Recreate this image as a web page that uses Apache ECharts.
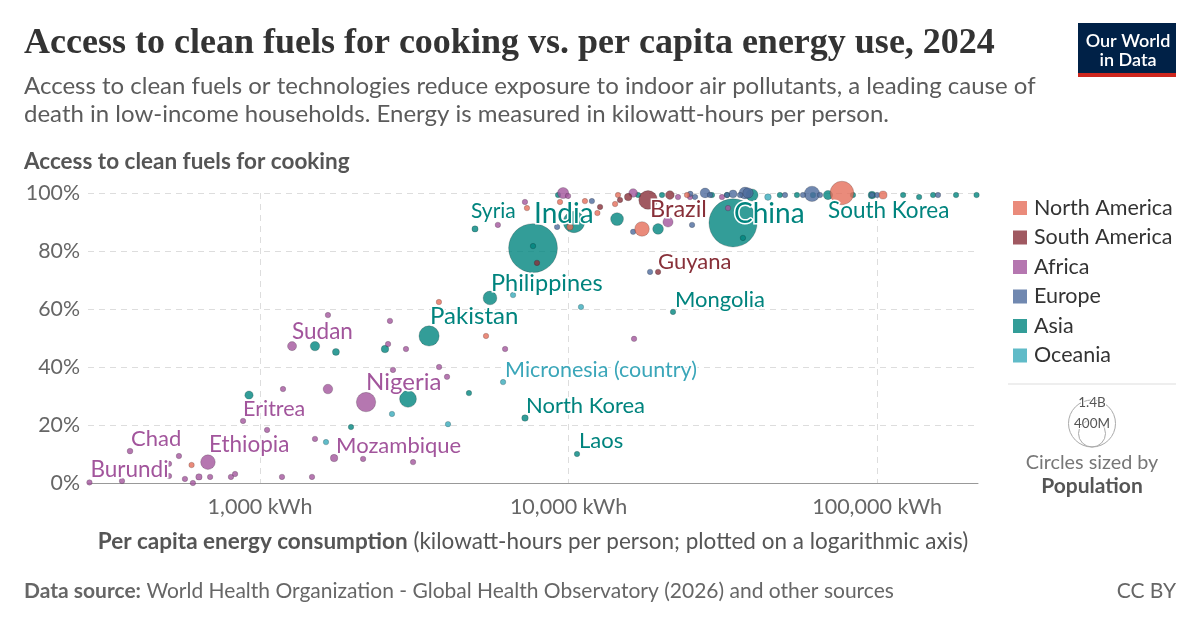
<!DOCTYPE html>
<html>
<head>
<meta charset="utf-8">
<script src="https://cdn.jsdelivr.net/npm/echarts@6/dist/echarts.min.js"></script>
<style>
  html, body { margin: 0; padding: 0; background: #fff; }
  #chart { width: 1200px; height: 627px; }
</style>
</head>
<body>
<div id="chart"></div>
<script>
// each point: [energy kWh per person, access to clean cooking %, population (millions), name]
const northAmerica = [
  [76900, 100, 340, 'United States'], [104500, 99.3, 40, ''], [17300, 87.6, 130, ''],
  [10100, 88.3, 25, ''], [9380, 96.9, 6, ''], [11300, 97.2, 6, ''], [12400, 93.1, 6, ''],
  [14150, 96.2, 10, ''], [14460, 99.3, 5, ''], [7330, 94.8, 6, ''], [24200, 99.3, 5, ''],
  [3800, 62.4, 5, ''], [5400, 50.7, 5, ''], [600, 6.2, 11, '']
]
const southAmerica = [
  [18100, 97.6, 212, 'Brazil'], [21300, 99.3, 46, ''], [15600, 98.6, 34, ''],
  [12650, 95.2, 6, ''], [14680, 97.6, 10, ''], [19500, 72.8, 1, 'Guyana'], [7900, 75.9, 6, '']
]
const africa = [
  [1270, 47.2, 50, 'Sudan'], [2206, 27.9, 230, 'Nigeria'], [678, 7.2, 130, 'Ethiopia'],
  [379, 11, 20, 'Chad'], [280, 0.2, 14, 'Burundi'], [881, 21.4, 4, 'Eritrea'],
  [1738, 8.6, 34, 'Mozambique'], [357, 0.7, 8, ''], [1660, 57.9, 5, ''], [2637, 55.9, 18, ''],
  [2600, 47.9, 12, ''], [2972, 46.2, 6, ''], [6227, 46.2, 6, ''], [2697, 39, 6, ''],
  [3805, 40, 6, ''], [4037, 36.6, 6, ''], [1187, 32.4, 6, ''], [1660, 32.4, 56, ''],
  [1054, 18.3, 6, ''], [1507, 15.2, 8, ''], [546, 9.3, 8, ''], [507, 6.6, 8, ''],
  [507, 2.4, 8, ''], [571, 1.4, 8, ''], [606, 0, 10, ''], [634, 2.1, 25, ''], [689, 2.1, 8, ''],
  [805, 2.1, 8, ''], [830, 3.1, 8, ''], [1178, 2.1, 8, ''], [1474, 2.1, 8, ''],
  [2158, 8.3, 8, ''], [3133, 7.2, 8, ''], [16300, 49.7, 6, ''], [5900, 89, 6, ''],
  [7220, 96.9, 12, ''], [9600, 100, 75, ''], [9960, 99, 6, ''], [16190, 100, 46, ''],
  [21000, 90, 63, ''], [22630, 98.6, 7, ''], [24760, 98.6, 6, ''], [31420, 98.6, 6, ''],
  [32870, 94.8, 3, '']
]
const europe = [
  [61500, 99.7, 144, ''], [37300, 100, 84, ''], [38150, 100, 66, ''], [27700, 100, 60, ''],
  [34120, 99.7, 38, ''], [11900, 97.2, 6, ''], [9180, 88.3, 3, ''], [16190, 86.6, 3, ''],
  [25130, 89, 3, ''], [18370, 72.8, 3, ''], [25700, 98.6, 10, ''], [28730, 99.3, 10, ''],
  [32620, 99.3, 10, ''], [35960, 99.3, 10, ''], [50290, 99.3, 10, ''], [57510, 99.3, 10, ''],
  [65270, 99.3, 10, ''], [96220, 99.3, 6, ''], [100000, 99.3, 6, ''], [157500, 99.3, 1, ''],
  [24800, 99.7, 9, '']
]
const asia = [
  [7670, 81, 1450, 'India'], [34120, 89.7, 1410, 'China'], [10410, 90, 280, ''],
  [3531, 50.7, 250, 'Pakistan'], [3017, 29, 173, ''], [5563, 63.8, 115, 'Philippines'],
  [14360, 91, 100, ''], [19500, 87.6, 70, ''], [39310, 99.3, 90, ''], [4975, 87.6, 24, 'Syria'],
  [21800, 59, 3.5, 'Mongolia'], [7224, 22.4, 26, 'North Korea'], [10650, 10, 7.7, 'Laos'],
  [69310, 99.3, 52, 'South Korea'], [96220, 99.3, 36, ''], [1507, 47.2, 54, ''],
  [1762, 45.2, 30, ''], [921, 30.3, 42, ''], [2541, 46.2, 35, ''], [1972, 19.3, 6, ''],
  [4755, 31, 6, ''], [7670, 81.7, 6, ''], [9247, 99.3, 10, ''], [16800, 99.3, 10, ''],
  [20080, 99.3, 10, ''], [29160, 99.3, 10, ''], [36740, 84.5, 4, ''], [48400, 99.3, 10, ''],
  [54980, 99.3, 10, ''], [61960, 99.3, 20, ''], [83510, 99.3, 10, ''], [121400, 99.3, 5, ''],
  [136800, 98.6, 5, ''], [151800, 99.3, 5, ''], [180200, 99.3, 3, ''], [210000, 99.3, 3, ''],
  [32620, 99.3, 6, '']
]
const oceania = [
  [6134, 34.8, 0.1, 'Micronesia (country)'], [6607, 64.8, 1, ''], [10970, 60.7, 1, ''],
  [2677, 23.8, 1, ''], [4067, 20.3, 1, ''], [1636, 14.1, 10, ''], [44280, 98.6, 27, '']
]
const continents = ['North America', 'South America', 'Africa', 'Europe', 'Asia', 'Oceania']
const yTicks = [0, 20, 40, 60, 80, 100]

// label placement relative to the point centre
const labelCfg = {
  India: { size: 28, dx: 1, dy: -34 },
  China: { size: 28, dx: 1, dy: -9 },
  Syria: { size: 21, dx: -4, dy: -18 },
  Brazil: { size: 23.5, dx: 2, dy: 9 },
  'South Korea': { size: 22.5, dx: 0, dy: 16 },
  Guyana: { size: 22, dx: 0, dy: -10 },
  Philippines: { size: 23.5, dx: 1, dy: -15 },
  Mongolia: { size: 22, dx: 2, dy: -12 },
  Pakistan: { size: 24, dx: 1, dy: -20 },
  Sudan: { size: 22.5, dx: 0, dy: -14 },
  'Micronesia (country)': { size: 21.5, dx: 2, dy: -12 },
  Nigeria: { size: 24, dx: 0, dy: -20 },
  'North Korea': { size: 22, dx: 1, dy: -12 },
  Eritrea: { size: 21.5, dx: 0, dy: -12 },
  Chad: { size: 22, dx: 1, dy: -12 },
  Ethiopia: { size: 22.5, dx: 1, dy: -17 },
  Mozambique: { size: 22, dx: 2, dy: -12 },
  Laos: { size: 22, dx: 2, dy: -13 },
  Burundi: { size: 22.5, dx: 1, dy: -13 }
}

const FONT = 'Lato'
const fills = {
  'North America': 'rgba(229,110,90,0.8)',
  'South America': 'rgba(136,48,57,0.8)',
  Africa: 'rgba(162,85,156,0.8)',
  Europe: 'rgba(76,106,156,0.8)',
  Asia: 'rgba(0,132,126,0.8)',
  Oceania: 'rgba(56,170,186,0.8)'
}
const labelColors = {
  'North America': '#c4503c', 'South America': '#883039', Africa: '#a2559c',
  Europe: '#4c6a9c', Asia: '#00847e', Oceania: '#3aa6b9'
}

function toItems(arr, region) {
  return arr.slice().sort((a, b) => b[2] - a[2]).map(d => {
    const item = { name: d[3], value: [d[0], d[1], d[2]] }
    const cfg = labelCfg[d[3]]
    if (cfg) {
      item.label = {
        show: true, position: 'inside', align: 'left', verticalAlign: 'middle',
        offset: [cfg.dx, cfg.dy], formatter: d[3], fontSize: cfg.size, fontFamily: FONT,
        color: labelColors[region], textBorderColor: '#fff', textBorderWidth: 3
      }
    }
    return item
  })
}

const sources = {
  'North America': northAmerica, 'South America': southAmerica, Africa: africa,
  Europe: europe, Asia: asia, Oceania: oceania
}
// draw order: Asia first so the smaller marks sit on top of the big ones
const drawOrder = ['Asia', 'Africa', 'Europe', 'North America', 'South America', 'Oceania']

const series = drawOrder.map(region => ({
  name: region,
  type: 'scatter',
  data: toItems(sources[region], region),
  symbolSize: v => Math.max(5.5, 48 * Math.sqrt(v[2] / 1400)),
  itemStyle: { color: fills[region], borderColor: 'rgba(0,0,0,0.3)', borderWidth: 0.6, opacity: 1 },
  label: { show: false },
  clip: false,
  emphasis: { disabled: true }
}))

const fmt = v => String(Math.round(v)).replace(/\B(?=(\d{3})+(?!\d))/g, ',')

const chart = echarts.init(document.getElementById('chart'))
chart.setOption({
  backgroundColor: '#fff',
  animation: false,
  textStyle: { fontFamily: FONT },
  grid: { left: 88, right: 222, top: 193, bottom: 144 },
  legend: {
    data: continents,
    orient: 'vertical', left: 1008, top: 192,
    icon: 'rect', itemWidth: 14, itemHeight: 14, itemGap: 7.5,
    itemStyle: { borderWidth: 0 },
    textStyle: { fontSize: 21.5, lineHeight: 20, color: '#333', fontFamily: FONT, padding: [0, 0, 0, 2] },
    selectedMode: false
  },
  xAxis: {
    type: 'log', logBase: 10, min: 277, max: 212300,
    axisLine: { show: true, lineStyle: { color: '#999', width: 1 } },
    axisTick: { show: false },
    splitLine: { show: true, showMinLine: false, showMaxLine: false, lineStyle: { color: '#ddd', type: [6, 5] } },
    axisLabel: {
      formatter: v => fmt(v) + ' kWh', color: '#666', fontSize: 21.5, margin: 13,
      showMinLabel: false, showMaxLabel: false, fontFamily: FONT
    },
    name: '{b|Per capita energy consumption} (kilowatt-hours per person; plotted on a logarithmic axis)',
    nameLocation: 'middle', nameGap: 47,
    nameTextStyle: {
      color: '#555', fontSize: 22.5, fontFamily: FONT,
      rich: { b: { fontWeight: 'bold', color: '#555', fontSize: 22.5, fontFamily: FONT } }
    }
  },
  yAxis: {
    type: 'value', min: yTicks[0], max: yTicks[yTicks.length - 1], interval: 20,
    axisLine: { show: false }, axisTick: { show: false },
    axisLabel: { formatter: '{value}%', color: '#666', fontSize: 21.3, margin: 8, fontFamily: FONT },
    splitLine: { show: true, showMinLine: false, lineStyle: { color: '#ddd', type: [6, 5] } }
  },
  series: series,
  graphic: [
    { type: 'text', x: 24, y: 44, style: { text: 'Access to clean fuels for cooking vs. per capita energy use, 2024', font: 'bold 36px "Liberation Serif"', fill: '#333', verticalAlign: 'middle' } },
    { type: 'text', x: 24, y: 86, style: { text: 'Access to clean fuels or technologies reduce exposure to indoor air pollutants, a leading cause of', fontSize: 24, fontFamily: FONT, fill: '#5b5b5b', verticalAlign: 'middle' } },
    { type: 'text', x: 24, y: 114, style: { text: 'death in low-income households. Energy is measured in kilowatt-hours per person.', fontSize: 24, fontFamily: FONT, fill: '#5b5b5b', verticalAlign: 'middle' } },
    { type: 'rect', shape: { x: 1078, y: 23, width: 98, height: 54 }, style: { fill: '#002147' } },
    { type: 'rect', shape: { x: 1078, y: 73, width: 98, height: 4 }, style: { fill: '#ce261e' } },
    { type: 'text', x: 1128, y: 41, style: { text: 'Our World', fontSize: 18, fontWeight: 600, fontFamily: FONT, fill: '#fff', align: 'center', verticalAlign: 'middle' } },
    { type: 'text', x: 1128, y: 60, style: { text: 'in Data', fontSize: 18, fontWeight: 600, fontFamily: FONT, fill: '#fff', align: 'center', verticalAlign: 'middle' } },
    { type: 'text', x: 24, y: 162, style: { text: 'Access to clean fuels for cooking', fontSize: 22.5, fontWeight: 'bold', fontFamily: FONT, fill: '#555', verticalAlign: 'middle' } },
    { type: 'line', shape: { x1: 1008, y1: 384, x2: 1176, y2: 384 }, style: { stroke: '#ddd', lineWidth: 1 } },
    { type: 'circle', shape: { cx: 1092, cy: 423.5, r: 23.5 }, style: { fill: 'none', stroke: '#aaa', lineWidth: 1 } },
    { type: 'circle', shape: { cx: 1092, cy: 433.5, r: 13.5 }, style: { fill: 'none', stroke: '#aaa', lineWidth: 1 } },
    { type: 'text', x: 1092, y: 403, style: { text: '1.4B', fontSize: 13.5, fontFamily: FONT, fill: '#555', align: 'center', verticalAlign: 'middle', stroke: '#fff', lineWidth: 2 } },
    { type: 'text', x: 1092, y: 424, style: { text: '400M', fontSize: 13.5, fontFamily: FONT, fill: '#555', align: 'center', verticalAlign: 'middle', stroke: '#fff', lineWidth: 2 } },
    { type: 'text', x: 1092, y: 463, style: { text: 'Circles sized by', fontSize: 19.8, fontFamily: FONT, fill: '#777', align: 'center', verticalAlign: 'middle' } },
    { type: 'text', x: 1092, y: 486, style: { text: 'Population', fontSize: 21, fontWeight: 'bold', fontFamily: FONT, fill: '#555', align: 'center', verticalAlign: 'middle' } },
    { type: 'text', x: 24, y: 591, style: { text: '{b|Data source:} World Health Organization - Global Health Observatory (2026) and other sources', fontSize: 21, fontFamily: FONT, fill: '#666', verticalAlign: 'middle', rich: { b: { fontWeight: 'bold', fontSize: 21, fontFamily: FONT, fill: '#666' } } } },
    { type: 'text', x: 1176, y: 591, style: { text: 'CC BY', fontSize: 21, fontFamily: FONT, fill: '#666', align: 'right', verticalAlign: 'middle' } }
  ]
})
</script>
</body>
</html>
